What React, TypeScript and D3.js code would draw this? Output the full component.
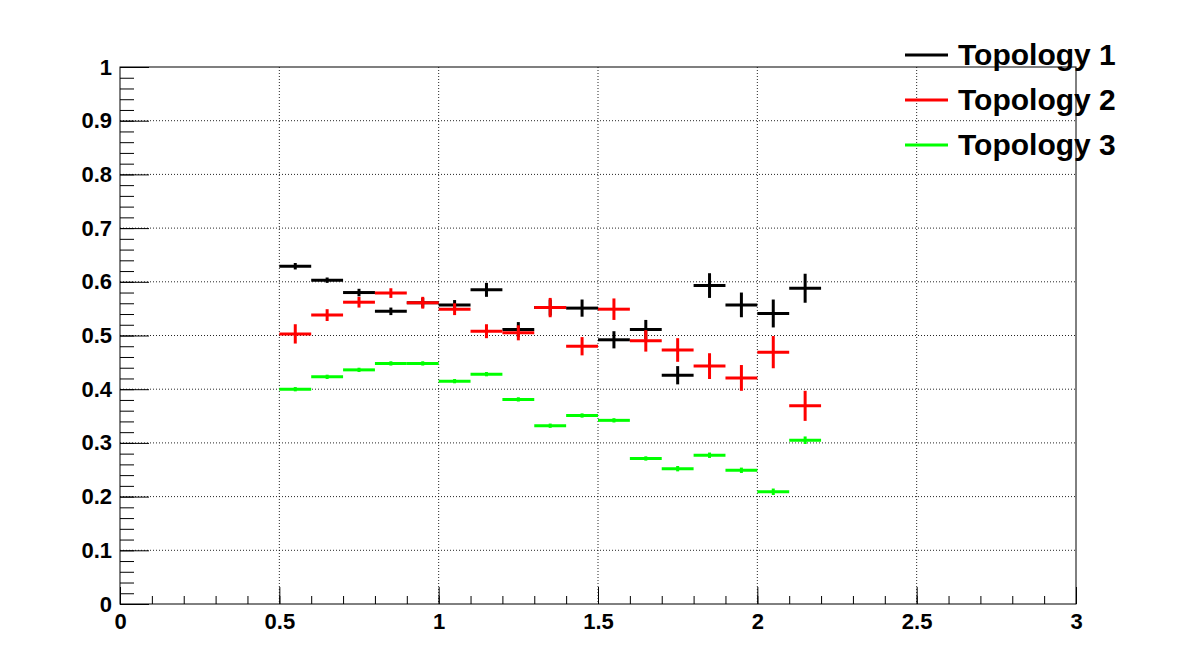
import { useEffect, useRef } from "react";
import * as d3 from "d3";

const WIDTH = 1196;
const HEIGHT = 672;
const MARGIN = { top: 67, right: 120, bottom: 68, left: 120 };
const FONT = "'Liberation Sans', Arial, Helvetica, sans-serif";

// bin centres (bins are 0.1 wide, from 0.5 to 2.2)
const BIN_CENTERS = [0.55, 0.65, 0.75, 0.85, 0.95, 1.05, 1.15, 1.25, 1.35, 1.45, 1.55, 1.65, 1.75, 1.85, 1.95, 2.05, 2.15];
const BIN_WIDTH = 0.1;

const TOPOLOGY_1 = [0.629, 0.603, 0.580, 0.545, 0.561, 0.557, 0.585, 0.511, 0.552, 0.551, 0.492, 0.511, 0.426, 0.593, 0.557, 0.541, 0.588];
const TOPOLOGY_1_ERR = [0.006, 0.005, 0.007, 0.007, 0.009, 0.009, 0.013, 0.014, 0.015, 0.016, 0.016, 0.018, 0.017, 0.023, 0.023, 0.026, 0.027];
const TOPOLOGY_2 = [0.503, 0.538, 0.562, 0.579, 0.561, 0.549, 0.508, 0.505, 0.552, 0.480, 0.549, 0.490, 0.473, 0.443, 0.421, 0.469, 0.369];
const TOPOLOGY_2_ERR = [0.018, 0.011, 0.010, 0.009, 0.011, 0.011, 0.013, 0.014, 0.018, 0.017, 0.020, 0.020, 0.022, 0.024, 0.024, 0.030, 0.028];
const TOPOLOGY_3 = [0.400, 0.423, 0.436, 0.448, 0.448, 0.415, 0.428, 0.381, 0.332, 0.351, 0.342, 0.271, 0.252, 0.277, 0.249, 0.209, 0.305];
const TOPOLOGY_3_ERR = [0.004, 0.004, 0.004, 0.004, 0.004, 0.004, 0.004, 0.004, 0.004, 0.004, 0.004, 0.004, 0.005, 0.005, 0.005, 0.006, 0.007];

const SERIES_NAMES = ["Topology 1", "Topology 2", "Topology 3"];
const COLORS = ["#000000", "#ff0000", "#00ff00"];

const X_TICKS = [0, 0.5, 1, 1.5, 2, 2.5, 3];
const X_LABELS = ["0", "0.5", "1", "1.5", "2", "2.5", "3"];
const Y_TICKS = [0, 0.1, 0.2, 0.3, 0.4, 0.5, 0.6, 0.7, 0.8, 0.9, 1];
const Y_LABELS = ["0", "0.1", "0.2", "0.3", "0.4", "0.5", "0.6", "0.7", "0.8", "0.9", "1"];

const series = [
  { name: SERIES_NAMES[0], values: TOPOLOGY_1, errors: TOPOLOGY_1_ERR, color: COLORS[0] },
  { name: SERIES_NAMES[1], values: TOPOLOGY_2, errors: TOPOLOGY_2_ERR, color: COLORS[1] },
  { name: SERIES_NAMES[2], values: TOPOLOGY_3, errors: TOPOLOGY_3_ERR, color: COLORS[2] },
];

export default function App() {
  const axesRef = useRef<SVGGElement>(null);
  const boundsWidth = WIDTH - MARGIN.left - MARGIN.right;
  const boundsHeight = HEIGHT - MARGIN.top - MARGIN.bottom;

  const xScale = d3.scaleLinear().domain([0, 3]).range([0, boundsWidth]);
  const yScale = d3.scaleLinear().domain([0, 1]).range([boundsHeight, 0]);

  useEffect(() => {
    const g = d3.select(axesRef.current);
    g.selectAll("*").remove();

    // minor ticks (drawn first, no labels)
    g.append("g")
      .attr("transform", `translate(0,${boundsHeight})`)
      .call(d3.axisBottom(xScale).tickValues(d3.range(0, 3.001, 0.1)).tickSizeInner(-8).tickSizeOuter(0).tickFormat(() => ""));
    g.append("g")
      .call(d3.axisLeft(yScale).tickValues(d3.range(0, 1.001, 0.02)).tickSizeInner(-14).tickSizeOuter(0).tickFormat(() => ""));

    // major ticks + labels
    const xAxis = g.append("g")
      .attr("transform", `translate(0,${boundsHeight})`)
      .call(
        d3.axisBottom(xScale)
          .tickValues(X_TICKS)
          .tickFormat((_, i) => X_LABELS[i])
          .tickSizeInner(-17)
          .tickSizeOuter(0)
          .tickPadding(9)
      );
    const yAxis = g.append("g")
      .call(
        d3.axisLeft(yScale)
          .tickValues(Y_TICKS)
          .tickFormat((_, i) => Y_LABELS[i])
          .tickSizeInner(-29)
          .tickSizeOuter(0)
          .tickPadding(8)
      );

    g.selectAll(".domain").remove();
    g.selectAll(".tick line").attr("stroke", "#000").attr("stroke-width", 1);
    [xAxis, yAxis].forEach((a) =>
      a.selectAll("text")
        .attr("fill", "#000")
        .style("font-family", FONT)
        .style("font-weight", "bold")
        .style("font-size", "22px")
    );
  }, [xScale, yScale, boundsHeight]);

  const gridX = X_TICKS.filter((t) => t > 0 && t < 3);
  const gridY = Y_TICKS.filter((t) => t > 0 && t < 1);

  return (
    <svg
      width={WIDTH}
      height={HEIGHT}
      style={{ position: "absolute", left: 0, top: 0, background: "#fff" }}
    >
      <g transform={`translate(${MARGIN.left},${MARGIN.top})`}>
        {/* grid */}
        {gridX.map((t) => (
          <line key={`gx${t}`} x1={xScale(t)} x2={xScale(t)} y1={0} y2={boundsHeight}
            stroke="#000" strokeWidth={1} strokeDasharray="1,2" opacity={0.85} />
        ))}
        {gridY.map((t) => (
          <line key={`gy${t}`} x1={0} x2={boundsWidth} y1={yScale(t)} y2={yScale(t)}
            stroke="#000" strokeWidth={1} strokeDasharray="1,2" opacity={0.85} />
        ))}

        {/* error bars */}
        {series.map((s) => (
          <g key={s.name} stroke={s.color} strokeWidth={3}>
            {BIN_CENTERS.map((c, i) => (
              <g key={i}>
                <line x1={xScale(c - BIN_WIDTH / 2)} x2={xScale(c + BIN_WIDTH / 2)}
                  y1={yScale(s.values[i])} y2={yScale(s.values[i])} />
                <line x1={xScale(c)} x2={xScale(c)}
                  y1={yScale(s.values[i] - s.errors[i])} y2={yScale(s.values[i] + s.errors[i])} />
              </g>
            ))}
          </g>
        ))}

        <g ref={axesRef} />

        {/* frame */}
        <rect x={0} y={0} width={boundsWidth} height={boundsHeight} fill="none" stroke="#000" strokeWidth={1} />
      </g>

      {/* legend */}
      {series.map((s, i) => (
        <g key={s.name} transform={`translate(905,${55 + i * 45})`}>
          <line x1={0} x2={43} y1={0} y2={0} stroke={s.color} strokeWidth={3} />
          <text x={53} y={10} fontFamily={FONT} fontWeight="bold" fontSize={30} fill="#000">
            {s.name}
          </text>
        </g>
      ))}
    </svg>
  );
}
